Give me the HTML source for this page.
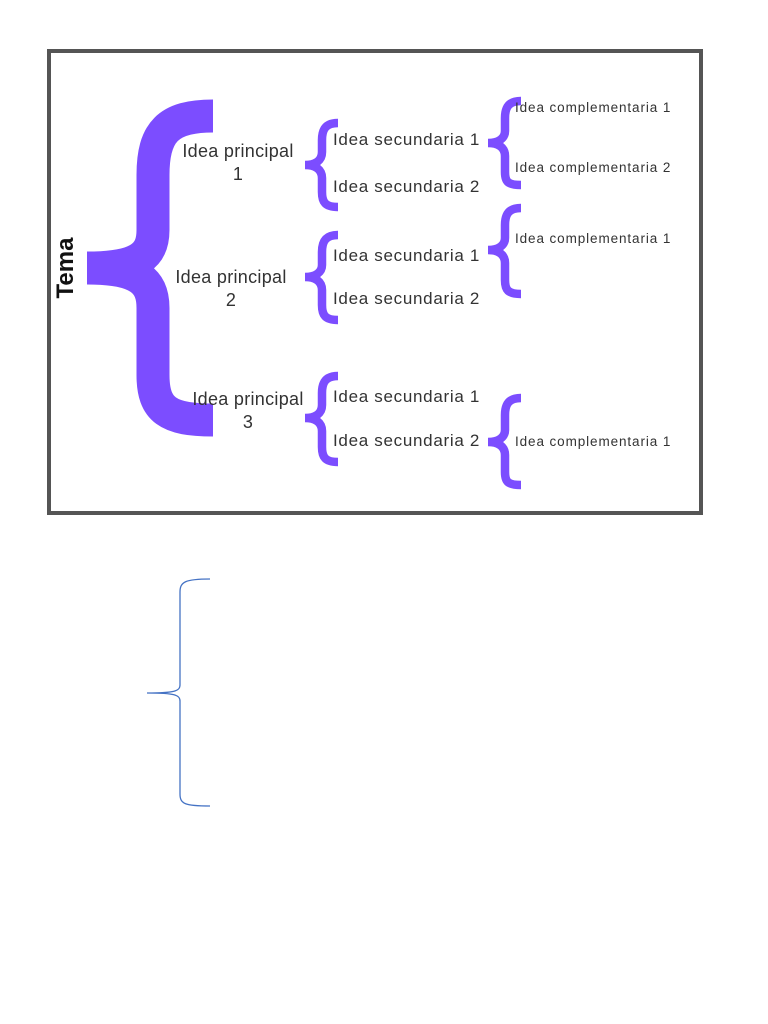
<!DOCTYPE html>
<html><head><style>
body{margin:0;width:768px;height:1024px;background:#fff;position:relative;font-family:"Liberation Sans","DejaVu Sans",sans-serif;overflow:hidden}
.t{position:absolute;color:#333;white-space:nowrap;line-height:1}
.s{font-size:17px;letter-spacing:0.7px}
.c{font-size:13.5px;letter-spacing:0.9px}
</style></head><body>
<div style="position:absolute;left:47px;top:49px;width:648px;height:458px;border:4px solid #555;background:#fff"></div>
<svg width="768" height="1024" style="position:absolute;left:0;top:0">
<g fill="none" stroke="#7c4dff" stroke-linecap="butt">
<path d="M213,116 C168,116 153,132 153,175 L153,230 C153,255 140,268 87,268 C140,268 153,282 153,308 L153,375 C153,410 168,420 213,420" stroke-width="33"/>
</g>
<g fill="none" stroke="#7c4dff" stroke-width="8.5">
<path d="M338,123 C325,123 322,130 322,140 L322,152 C322,160 316,165 305,165 C316,165 322,170 322,178 L322,192 C322,202 325,207 338,207"/>
<path d="M338,235 C325,235 322,242 322,252 L322,265 C322,272 316,277 305,277 C316,277 322,282 322,290 L322,305 C322,315 325,320 338,320"/>
<path d="M338,376 C325,376 322,383 322,393 L322,405 C322,413 316,418 305,418 C316,418 322,423 322,431 L322,447 C322,457 325,462 338,462"/>
<path d="M521,101 C508,101 505,108 505,118 L505,131 C505,138 499,143 488,143 C499,143 505,148 505,156 L505,172 C505,182 508,185 521,185"/>
<path d="M521,208 C508,208 505,215 505,225 L505,238 C505,245 499,250 488,250 C499,250 505,255 505,263 L505,280 C505,290 508,294 521,294"/>
<path d="M521,398 C508,398 505,405 505,415 L505,430 C505,437 499,442 488,442 C499,442 505,447 505,455 L505,472 C505,482 508,485 521,485"/>
</g>
<path d="M210,579 C185,579 180,582 180,592 L180,685 C180,691 175,693 147,693 C175,693 180,695 180,701 L180,794 C180,804 185,806 210,806" fill="none" stroke="#4472c4" stroke-width="1.3"/>
</svg>
<div class="t" style="left:36px;top:256px;width:60px;height:24px;transform:rotate(-90deg);transform-origin:center;font-weight:bold;font-size:24px;color:#111;display:flex;justify-content:center">Tema</div>
<div class="t" style="left:170px;top:140px;width:136px;text-align:center;font-size:18px;letter-spacing:0.3px;line-height:23px">Idea principal<br>1</div>
<div class="t" style="left:163px;top:266px;width:136px;text-align:center;font-size:18px;letter-spacing:0.3px;line-height:23px">Idea principal<br>2</div>
<div class="t" style="left:180px;top:388px;width:136px;text-align:center;font-size:18px;letter-spacing:0.3px;line-height:23px">Idea principal<br>3</div>
<div class="t s" style="left:333px;top:131px">Idea secundaria 1</div>
<div class="t s" style="left:333px;top:178px">Idea secundaria 2</div>
<div class="t s" style="left:333px;top:247px">Idea secundaria 1</div>
<div class="t s" style="left:333px;top:290px">Idea secundaria 2</div>
<div class="t s" style="left:333px;top:388px">Idea secundaria 1</div>
<div class="t s" style="left:333px;top:432px">Idea secundaria 2</div>
<div class="t c" style="left:515px;top:101px">Idea complementaria 1</div>
<div class="t c" style="left:515px;top:161px">Idea complementaria 2</div>
<div class="t c" style="left:515px;top:232px">Idea complementaria 1</div>
<div class="t c" style="left:515px;top:435px">Idea complementaria 1</div>
</body></html>
